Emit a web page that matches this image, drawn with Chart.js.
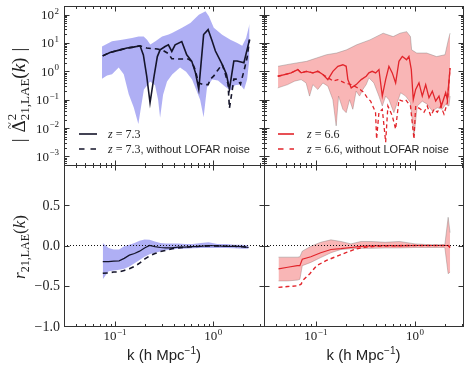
<!DOCTYPE html>
<html>
<head>
<meta charset="utf-8">
<script src="https://cdn.jsdelivr.net/npm/chart.js@4.4.1/dist/chart.umd.min.js"></script>
<style>
  html, body { margin: 0; padding: 0; background: #fff; }
  #wrap { position: relative; width: 474px; height: 366px; }
  #wrap canvas { position: absolute; left: 0; top: 0; }
</style>
</head>
<body>
<div id="wrap">
  <canvas id="tl" width="474" height="366"></canvas>
  <canvas id="tr" width="474" height="366"></canvas>
  <canvas id="bl" width="474" height="366"></canvas>
  <canvas id="br" width="474" height="366"></canvas>
</div>
<script>
// ---- data ----
// top left, z = 7.3 : |Delta^2_21,LAE(k)|
const kTLSolid = [0.0749, 0.0889, 0.1125, 0.1326, 0.1537, 0.18, 0.1945, 0.2105, 0.2275, 0.25, 0.27, 0.288, 0.324, 0.35, 0.379, 0.41, 0.479, 0.538, 0.606, 0.66, 0.714, 0.80, 0.889, 0.977, 1.055, 1.236, 1.367, 1.466, 1.626, 1.758, 2.06, 2.35];
const vTLSolid = [3.5, 4.6, 5.7, 6.6, 7.1, 7.9, 3.8, 0.67, 0.078, 0.67, 3.3, 5.7, 7.5, 8.6, 5.0, 8.6, 11.2, 3.8, 2.24, 0.9, 0.235, 19.7, 29.5, 11.6, 5.2, 1.76, 0.785, 0.235, 2.31, 2.31, 2.0, 13.1];
const kTLDash = [0.0749, 0.0889, 0.1125, 0.1326, 0.1537, 0.18, 0.2105, 0.27, 0.31, 0.35, 0.379, 0.46, 0.56, 0.606, 0.655, 0.71, 0.80, 0.89, 0.938, 1.016, 1.10, 1.236, 1.334, 1.42, 1.466, 1.56, 1.626, 1.758, 1.90, 2.06, 2.22, 2.35];
const vTLDash = [3.5, 4.6, 5.7, 6.6, 7.1, 7.9, 6.6, 6.1, 5.4, 4.2, 2.8, 2.7, 2.7, 2.24, 1.15, 0.39, 0.34, 0.34, 0.53, 0.69, 1.03, 1.76, 0.79, 0.35, 0.05, 0.2, 0.53, 0.53, 0.35, 1.03, 3.0, 13.1];
const kTLHi = [0.0737, 0.0932, 0.118, 0.149, 0.174, 0.196, 0.212, 0.229, 0.258, 0.302, 0.352, 0.381, 0.482, 0.586, 0.715, 0.836, 0.905, 1.016, 1.236, 1.5, 1.76, 1.98, 2.17, 2.35];
const vTLHi = [7.5, 11.5, 13, 15, 17, 17, 13, 8.8, 11.5, 17, 19.7, 22.6, 34, 50, 98, 130, 87, 34, 19.5, 13, 10, 7.9, 15, 46];
const kTLLo = [0.0737, 0.0829, 0.0932, 0.109, 0.1227, 0.138, 0.155, 0.173, 0.184, 0.197, 0.228, 0.256, 0.275, 0.288, 0.309, 0.339, 0.382, 0.46, 0.53, 0.61, 0.67, 0.737, 0.80, 0.866, 0.977, 1.12, 1.32, 1.5, 1.67, 1.88, 2.07, 2.22, 2.35];
const vTLLo = [0.55, 0.71, 0.79, 1.35, 0.79, 0.157, 0.054, 0.014, 0.054, 0.23, 0.44, 0.32, 0.10, 0.023, 0.15, 0.44, 0.77, 1.35, 0.97, 0.51, 0.23, 0.10, 0.024, 0.27, 0.51, 0.47, 0.29, 0.21, 0.32, 0.34, 0.23, 0.51, 3.0];

// top right, z = 6.6
const kTRSolid = [0.0413, 0.0483, 0.0563, 0.0658, 0.0711, 0.0798, 0.0933, 0.1047, 0.1177, 0.1322, 0.1486, 0.1667, 0.1874, 0.2023, 0.2104, 0.2274, 0.2553, 0.287, 0.322, 0.343, 0.37, 0.401, 0.433, 0.468, 0.506, 0.546, 0.59, 0.638, 0.689, 0.745, 0.824, 0.869, 0.918, 0.961, 1.016, 1.097, 1.185, 1.282, 1.384, 1.496, 1.617, 1.746, 1.844, 2.04, 2.12, 2.26];
const vTRSolid = [0.67, 0.77, 0.88, 1.15, 0.88, 1.0, 0.88, 1.0, 0.77, 0.51, 1.0, 1.5, 1.7, 1.5, 0.51, 0.26, 0.34, 0.51, 0.67, 0.88, 1.0, 0.88, 1.15, 0.134, 0.51, 1.5, 0.88, 0.39, 2.24, 3.34, 2.56, 3.34, 1.15, 0.10, 0.23, 0.39, 0.134, 0.34, 0.117, 0.2, 0.089, 0.134, 0.06, 0.176, 0.10, 1.3];
const kTRDash = [0.0413, 0.0483, 0.0563, 0.0658, 0.0711, 0.0798, 0.0933, 0.1047, 0.1177, 0.1322, 0.1496, 0.1667, 0.195, 0.2274, 0.2655, 0.305, 0.33, 0.357, 0.40, 0.41, 0.433, 0.468, 0.506, 0.533, 0.59, 0.638, 0.689, 0.745, 0.805, 0.90, 0.977, 1.016, 1.14, 1.233, 1.33, 1.44, 1.56, 1.68, 1.82, 1.96, 2.12, 2.26];
const vTRDash = [0.67, 0.77, 0.88, 1.15, 0.88, 1.0, 0.88, 1.0, 0.77, 0.60, 0.45, 0.51, 0.39, 0.34, 0.26, 0.18, 0.117, 0.089, 0.036, 0.0041, 0.036, 0.046, 0.0032, 0.06, 0.027, 0.0092, 0.10, 0.089, 0.10, 0.06, 0.0041, 0.06, 0.046, 0.036, 0.06, 0.027, 0.046, 0.036, 0.06, 0.031, 0.078, 1.3];
const kTRHi = [0.0416, 0.0506, 0.064, 0.0806, 0.1016, 0.128, 0.162, 0.204, 0.258, 0.351, 0.478, 0.602, 0.706, 0.824, 0.9, 0.925, 1.04, 1.31, 1.65, 2.01, 2.17, 2.26];
const vTRHi = [1.5, 1.71, 1.97, 2.24, 2.94, 3.84, 4.4, 5.7, 8.6, 12.8, 22, 16.7, 22, 25, 16.7, 5.7, 4.4, 4.4, 3.3, 3.84, 12.8, 22];
const kTRLo = [0.0413, 0.052, 0.0609, 0.0711, 0.0798, 0.0864, 0.0933, 0.1047, 0.1177, 0.1322, 0.1486, 0.1604, 0.1695, 0.1874, 0.2023, 0.2187, 0.236, 0.255, 0.276, 0.298, 0.322, 0.343, 0.385, 0.433, 0.468, 0.506, 0.546, 0.613, 0.662, 0.716, 0.805, 0.90, 0.977, 1.055, 1.185, 1.33, 1.496, 1.68, 1.88, 2.04, 2.2, 2.26];
const vTRLo = [0.26, 0.34, 0.45, 0.51, 0.39, 0.134, 0.34, 0.23, 0.39, 0.3, 0.10, 0.012, 0.134, 0.046, 0.035, 0.10, 0.046, 0.2, 0.134, 0.23, 0.34, 0.59, 0.39, 0.134, 0.06, 0.134, 0.10, 0.035, 0.079, 0.176, 0.134, 0.079, 0.0053, 0.06, 0.089, 0.069, 0.04, 0.052, 0.046, 0.069, 0.06, 0.134];

// bottom left, z = 7.3 : r_21,LAE(k)
const kBL = [0.075, 0.086, 0.097, 0.11, 0.124, 0.14, 0.158, 0.178, 0.2, 0.225, 0.255, 0.29, 0.33, 0.38, 0.44, 0.52, 0.62, 0.75, 0.9, 1.1, 1.35, 1.65, 2.0, 2.3];
const rBLSolid = [-0.20, -0.20, -0.195, -0.19, -0.16, -0.12, -0.10, -0.07, -0.03, 0.0, -0.015, -0.025, -0.03, -0.03, -0.02, -0.02, -0.015, -0.01, 0.0, -0.005, -0.01, -0.01, -0.015, -0.025];
const rBLDash = [-0.345, -0.34, -0.33, -0.33, -0.31, -0.29, -0.26, -0.22, -0.17, -0.13, -0.10, -0.075, -0.06, -0.04, -0.03, -0.02, -0.015, -0.01, -0.005, -0.005, -0.01, -0.01, -0.015, -0.025];
const rBLHi = [0.03, -0.03, -0.05, -0.05, -0.01, 0.01, 0.03, 0.06, 0.075, 0.07, 0.05, 0.03, 0.025, 0.025, 0.025, 0.02, 0.02, 0.03, 0.04, 0.02, 0.02, 0.01, 0.01, 0.0];
const rBLLo = [-0.42, -0.32, -0.31, -0.30, -0.29, -0.26, -0.22, -0.18, -0.14, -0.11, -0.09, -0.075, -0.06, -0.05, -0.04, -0.04, -0.035, -0.03, -0.03, -0.03, -0.03, -0.035, -0.04, -0.04];

// bottom right, z = 6.6
const kBR = [0.042, 0.052, 0.065, 0.069, 0.073, 0.089, 0.112, 0.142, 0.179, 0.226, 0.285, 0.36, 0.5, 0.7, 1.0, 1.4, 1.78, 2.0, 2.16, 2.26];
const rBRSolid = [-0.29, -0.27, -0.25, -0.25, -0.17, -0.14, -0.09, -0.05, -0.04, -0.025, -0.01, -0.005, 0.0, -0.005, 0.0, 0.0, 0.0, 0.0, 0.0, -0.03];
const rBRHi = [-0.145, -0.145, -0.145, -0.14, -0.07, -0.01, 0.04, 0.07, 0.05, 0.02, 0.05, 0.05, 0.04, 0.05, 0.02, 0.01, 0.01, 0.01, 0.35, 0.16];
const rBRLo = [-0.44, -0.44, -0.43, -0.42, -0.25, -0.21, -0.15, -0.09, -0.05, -0.04, -0.035, -0.035, -0.03, -0.03, -0.025, -0.025, -0.025, -0.025, -0.35, -0.33];
const kBRDash = [0.042, 0.052, 0.066, 0.071, 0.0745, 0.087, 0.102, 0.128, 0.162, 0.204, 0.258, 0.32, 0.4, 0.55, 0.75, 1.0, 1.4, 1.8, 2.16, 2.26];
const rBRDash = [-0.52, -0.51, -0.50, -0.48, -0.43, -0.35, -0.25, -0.185, -0.135, -0.085, -0.04, -0.02, -0.01, -0.005, 0.0, 0.0, 0.0, 0.0, 0.0, -0.02];

// axes / ticks
const xRangeLeft = [0.0302, 3.3];
const xRangeRight = [0.03, 3.05];
const topYRange = [5e-4, 200];
const bottomYRange = [-1, 1];
const xMajorTicks = [0.1, 1];
const topYMajorTicks = [1e-3, 1e-2, 1e-1, 1, 10, 100];
const bottomYMajorTicks = [-1, -0.5, 0, 0.5, 1];
const bottomYTickLabels = ["\u22121.0", "\u22120.5", "0.0", "0.5", ""];

const SERIF = '"Liberation Serif", "DejaVu Serif", serif';
const SANS = '"Liberation Sans", Arial, sans-serif';
const BLUE_BAND = "rgba(110,110,235,0.55)";
const RED_BAND = "rgba(240,80,80,0.42)";
const DARK = "#15152a";
const RED = "#e2252b";

function pts(ks, vs) {
  return ks.map((k, i) => ({ x: k, y: vs[i] }));
}

// "10^n" tick label
function powLabel(ctx, exp, x, y, align) {
  const sup = exp < 0 ? "\u2212" + -exp : String(exp);
  ctx.font = "13px " + SERIF;
  const wb = ctx.measureText("10").width;
  ctx.font = "9px " + SERIF;
  const ws = ctx.measureText(sup).width;
  const w = wb + ws + 0.5;
  const x0 = align === "right" ? x - w : x - w / 2;
  ctx.textAlign = "left";
  ctx.font = "13px " + SERIF;
  ctx.fillText("10", x0, y);
  ctx.font = "9px " + SERIF;
  ctx.fillText(sup, x0 + wb + 0.5, y - 5.5);
}

// rotated rich text for the y axis titles
function yTitle(ctx, bx, cy, parts) {
  ctx.save();
  ctx.translate(bx, cy);
  ctx.rotate(-Math.PI / 2);
  ctx.textAlign = "left";
  ctx.textBaseline = "alphabetic";
  let w = 0;
  parts.forEach((p) => {
    ctx.font = p.font;
    p.w = ctx.measureText(p.t).width;
    if (!p.stay) w += p.w + (p.gap || 0);
  });
  let x = -w / 2;
  parts.forEach((p) => {
    ctx.font = p.font;
    ctx.fillText(p.t, x, p.dy || 0);
    if (p.accent) {
      ctx.font = p.accentFont;
      const wa = ctx.measureText(p.accent).width;
      ctx.fillText(p.accent, x + p.w / 2 - wa / 2 + 0.5, p.accentDy);
    }
    if (!p.stay) x += p.w + (p.gap || 0);
  });
  ctx.restore();
}

function topTitle(ctx) {
  const F = 19, s = 13;
  const main = F + "px " + SERIF, it = "italic " + F + "px " + SERIF, sm = s + "px " + SERIF;
  yTitle(ctx, 25, 95, [
    { t: "|", font: main, gap: 6 },
    { t: "\u0394", font: main, accent: "~", accentFont: "13px " + SERIF, accentDy: -11.5 },
    { t: "2", font: sm, dy: -F * 0.45, stay: true },
    { t: "21,LAE", font: sm, dy: F * 0.22 },
    { t: "(", font: main },
    { t: "k", font: it },
    { t: ")", font: main, gap: 6 },
    { t: "|", font: main }
  ]);
}

function bottomTitle(ctx) {
  const F = 17, s = 12;
  const main = F + "px " + SERIF, it = "italic " + F + "px " + SERIF, sm = s + "px " + SERIF;
  yTitle(ctx, 25, 247, [
    { t: "r", font: it },
    { t: "21,LAE", font: sm, dy: F * 0.22 },
    { t: "(", font: main },
    { t: "k", font: it },
    { t: ")", font: main }
  ]);
}

function xTitle(ctx, cx, y) {
  ctx.textAlign = "left";
  ctx.font = "15px " + SANS;
  const a = "k (h Mpc", b = ")";
  const wa = ctx.measureText(a).width, wb = ctx.measureText(b).width;
  ctx.font = "10px " + SANS;
  const ws = ctx.measureText("\u22121").width;
  const x0 = cx - (wa + ws + wb) / 2;
  ctx.font = "15px " + SANS;
  ctx.fillText(a, x0, y);
  ctx.fillText(b, x0 + wa + ws, y);
  ctx.font = "10px " + SANS;
  ctx.fillText("\u22121", x0 + wa, y - 6);
}

function legend(ctx, L) {
  ctx.save();
  ctx.strokeStyle = L.color;
  ctx.lineWidth = 1.6;
  [L.y1, L.y2].forEach((y, i) => {
    ctx.setLineDash(i ? [5.5, 6] : []);
    ctx.beginPath();
    ctx.moveTo(L.x0, y);
    ctx.lineTo(L.x1, y);
    ctx.stroke();
  });
  ctx.setLineDash([]);
  ctx.fillStyle = "#222";
  ctx.textAlign = "left";
  [L.y1, L.y2].forEach((y, i) => {
    let x = L.tx;
    ctx.font = "italic 12px " + SERIF;
    ctx.fillText("z", x, y + 4);
    x += ctx.measureText("z").width;
    ctx.font = "12px " + SERIF;
    const eq = " = " + L.z;
    ctx.fillText(eq, x, y + 4);
    x += ctx.measureText(eq).width;
    if (i) {
      ctx.font = "11px " + SANS;
      ctx.fillText(", without LOFAR noise", x, y + 4);
    }
  });
  ctx.restore();
}

const deco = {
  id: "deco",
  afterDatasetsDraw(chart, args, o) {
    const { ctx, chartArea: a } = chart;
    const xs = chart.scales.x, ys = chart.scales.y;
    ctx.save();
    ctx.strokeStyle = "#333";
    ctx.fillStyle = "#222";
    ctx.lineWidth = 1;
    const L = Math.round(a.left) + 0.5, R = Math.round(a.right) + 0.5;
    const T = Math.round(a.top) + 0.5, B = Math.round(a.bottom) + 0.5;
    ctx.beginPath();
    // x ticks, major from list, minor in between
    for (let e = -2; e <= 0; e++) {
      for (let m = 1; m <= 9; m++) {
        const v = m * Math.pow(10, e);
        if (v < xs.min || v > xs.max) continue;
        const major = xMajorTicks.some((t) => Math.abs(t - v) < 1e-9);
        const px = Math.round(xs.getPixelForValue(v)) + 0.5;
        const len = major ? 5 : 2.5;
        ctx.moveTo(px, B); ctx.lineTo(px, B - len);
        ctx.moveTo(px, T); ctx.lineTo(px, T + len);
      }
    }
    // y ticks
    if (o.ylog) {
      for (let e = -4; e <= 2; e++) {
        for (let m = 1; m <= 9; m++) {
          const v = m * Math.pow(10, e);
          if (v < ys.min || v > ys.max) continue;
          const py = Math.round(ys.getPixelForValue(v)) + 0.5;
          const len = m === 1 ? 5 : 2.5;
          ctx.moveTo(L, py); ctx.lineTo(L + len, py);
          ctx.moveTo(R, py); ctx.lineTo(R - len, py);
        }
      }
    } else {
      bottomYMajorTicks.forEach((v) => {
        const py = Math.round(ys.getPixelForValue(v)) + 0.5;
        ctx.moveTo(L, py); ctx.lineTo(L + 5, py);
        ctx.moveTo(R, py); ctx.lineTo(R - 5, py);
      });
    }
    ctx.stroke();
    // frame
    ctx.strokeRect(L, T, R - L, B - T);

    ctx.textBaseline = "alphabetic";
    if (o.yLabels) {
      if (o.ylog) {
        topYMajorTicks.forEach((v) => {
          powLabel(ctx, Math.round(Math.log10(v)), a.left - 5, ys.getPixelForValue(v) + 4.5, "right");
        });
      } else {
        ctx.font = "14px " + SERIF;
        ctx.textAlign = "right";
        bottomYMajorTicks.forEach((v, i) => {
          ctx.fillText(bottomYTickLabels[i], a.left - 4, ys.getPixelForValue(v) + 4.5);
        });
      }
    }
    if (o.xLabels) {
      xMajorTicks.forEach((v) => {
        powLabel(ctx, Math.round(Math.log10(v)), xs.getPixelForValue(v), a.bottom + 14, "center");
      });
      xTitle(ctx, (a.left + a.right) / 2, 360);
    }
    if (o.title === "top") topTitle(ctx);
    if (o.title === "bottom") bottomTitle(ctx);
    if (o.legend) legend(ctx, o.legend);
    ctx.restore();
  }
};

function panel(id, pad, xRange, yType, yRange, datasets, decoOpts) {
  return new Chart(document.getElementById(id), {
    type: "line",
    data: { datasets: datasets },
    options: {
      responsive: false,
      animation: false,
      events: [],
      layout: { padding: pad },
      elements: { point: { radius: 0 }, line: { tension: 0 } },
      plugins: { legend: { display: false }, tooltip: { enabled: false }, deco: decoOpts },
      scales: {
        x: { type: "logarithmic", min: xRange[0], max: xRange[1], display: false },
        y: { type: yType, min: yRange[0], max: yRange[1], display: false }
      }
    },
    plugins: [deco]
  });
}

function line(data, color, width, dash, order) {
  return { data: data, borderColor: color, borderWidth: width, borderDash: dash, fill: false, order: order };
}
function bandTop(data, color, edge) {
  return { data: data, borderColor: edge || "rgba(0,0,0,0)", borderWidth: edge ? 0.8 : 0, backgroundColor: color, fill: "+1", order: 5 };
}
function bandBottom(data, edge) {
  return { data: data, borderColor: edge || "rgba(0,0,0,0)", borderWidth: edge ? 0.8 : 0, fill: false, order: 5 };
}
function zeroLine(xRange) {
  return { data: [{ x: xRange[0], y: 0 }, { x: xRange[1], y: 0 }], borderColor: "#111", borderWidth: 1, borderDash: [1, 2], fill: false, order: 0 };
}

const EDGE = "rgba(120,120,120,0.5)";

panel("tl", { left: 64, top: 6, right: 210, bottom: 201 }, xRangeLeft, "logarithmic", topYRange, [
  line(pts(kTLSolid, vTLSolid), DARK, 1.6, [], 1),
  line(pts(kTLDash, vTLDash), DARK, 1.6, [5, 4], 2),
  bandTop(pts(kTLHi, vTLHi), BLUE_BAND),
  bandBottom(pts(kTLLo, vTLLo))
], { ylog: true, yLabels: true, title: "top", legend: { x0: 79, x1: 97, tx: 108, y1: 134, y2: 149, color: DARK, z: "7.3" } });

panel("tr", { left: 264, top: 6, right: 11, bottom: 201 }, xRangeRight, "logarithmic", topYRange, [
  line(pts(kTRSolid, vTRSolid), RED, 1.3, [], 1),
  line(pts(kTRDash, vTRDash), RED, 1.3, [4, 3], 2),
  bandTop(pts(kTRHi, vTRHi), RED_BAND, EDGE),
  bandBottom(pts(kTRLo, vTRLo), EDGE)
], { ylog: true, legend: { x0: 278, x1: 294, tx: 307, y1: 134, y2: 149, color: RED, z: "6.6" } });

panel("bl", { left: 64, top: 165, right: 210, bottom: 40 }, xRangeLeft, "linear", bottomYRange, [
  zeroLine(xRangeLeft),
  line(pts(kBL, rBLSolid), DARK, 1.2, [], 1),
  line(pts(kBL, rBLDash), DARK, 1.6, [5, 4], 2),
  bandTop(pts(kBL, rBLHi), BLUE_BAND),
  bandBottom(pts(kBL, rBLLo))
], { ylog: false, yLabels: true, xLabels: true, title: "bottom" });

panel("br", { left: 264, top: 165, right: 11, bottom: 40 }, xRangeRight, "linear", bottomYRange, [
  zeroLine(xRangeRight),
  line(pts(kBR, rBRSolid), RED, 1.2, [], 1),
  line(pts(kBRDash, rBRDash), RED, 1.4, [4, 3], 2),
  bandTop(pts(kBR, rBRHi), RED_BAND, EDGE),
  bandBottom(pts(kBR, rBRLo), EDGE)
], { ylog: false, xLabels: true });
</script>
</body>
</html>
